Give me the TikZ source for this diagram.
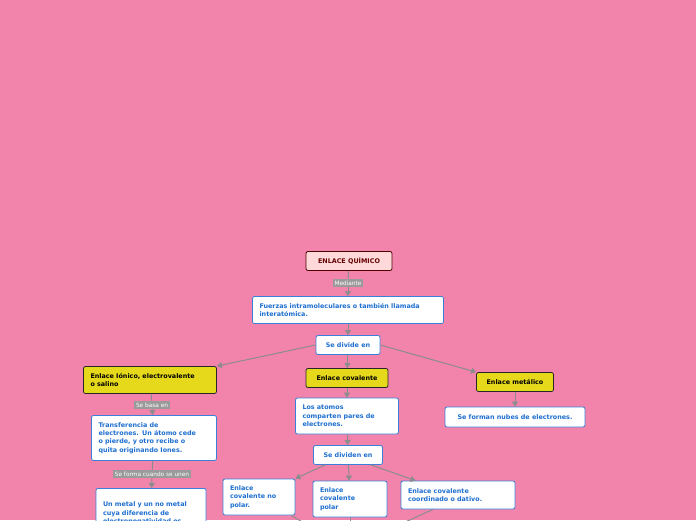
\documentclass[tikz,border=0pt]{standalone}
\usepackage{fontspec}
\setmainfont{DejaVu Sans}
\usetikzlibrary{arrows.meta}
\definecolor{bg}{HTML}{F283AA}
\definecolor{bluet}{HTML}{1E6FD0}
\definecolor{blueb}{HTML}{3A80D8}
\definecolor{yel}{HTML}{E6D81A}
\definecolor{lab}{HTML}{9A9A9A}
\definecolor{conn}{HTML}{8C8C8C}
\tikzset{
 x=1pt,y=-1pt,
 box/.style={draw=blueb,fill=white,rounded corners=2pt,line width=0.8pt,text=bluet,font=\bfseries\fontsize{6.4}{8.3}\selectfont,align=left,inner xsep=7pt,inner ysep=3pt},
 ybox/.style={draw=black!85,fill=yel,rounded corners=2pt,line width=0.8pt,text=black,font=\bfseries\fontsize{6.4}{8.3}\selectfont,align=left,inner xsep=7pt,inner ysep=3pt},
 lbl/.style={fill=lab,text=white,font=\fontsize{5.8}{7}\selectfont,inner sep=2pt},
 conn/.style={draw=conn,line width=1pt,-{Triangle[length=5pt,width=6pt]}},
 plain/.style={draw=conn,line width=1pt}
}
\begin{document}
\begin{tikzpicture}
\fill[bg] (0,0) rectangle (696,520);
\useasboundingbox (0,0) rectangle (696,520);
\begin{scope}
\clip (0,0) rectangle (696,520);
\node[draw=black!70!red,fill=pink!60!white,rounded corners=2pt,line width=0.8pt,text=black!60!red,font=\bfseries\fontsize{6.4}{8}\selectfont,minimum width=86pt,minimum height=19pt] (q) at (349,261) {ENLACE QUÍMICO};
\node[lbl] (med) at (348,283) {Mediante};
\node[box,text width=177pt,minimum height=27pt] (f) at (348,310) {Fuerzas intramoleculares o también llamada\\interatómica.};
\node[box,minimum width=64pt,minimum height=19pt,align=center] (d) at (348,345) {Se divide en};
\node[ybox,text width=119pt,minimum height=27pt] (io) at (150,380) {Enlace Iónico, electrovalente\\o salino};
\node[ybox,minimum width=82pt,minimum height=19pt] (co) at (347,378) {Enlace covalente};
\node[ybox,minimum width=77pt,minimum height=19pt] (me) at (515,382) {Enlace metálico};
\node[box,minimum width=140pt,minimum height=20pt] (nu) at (515,417) {Se forman nubes de electrones.};
\node[lbl] (ba) at (152,405) {Se basa en};
\node[box,text width=111pt,minimum height=45pt] (tr) at (154,438) {Transferencia de\\electrones. Un átomo cede\\o pierde, y otro recibe o\\quita originando Iones.};
\node[lbl] (fo) at (152,474) {Se forma cuando se unen};
\node[box,text width=96pt,minimum height=50pt,anchor=north] (um) at (151,488) {Un metal y un no metal\\cuya diferencia de\\electronegatividad es};
\node[box,text width=89pt,minimum height=36pt] (at) at (347,416) {Los atomos\\comparten pares de\\electrones.};
\node[box,minimum width=69pt,minimum height=19pt] (dv) at (348,455) {Se dividen en};
\node[box,text width=58pt,minimum height=36pt] (np) at (259,497) {Enlace\\covalente no\\polar.};
\node[box,text width=60pt,minimum height=36pt] (po) at (350,499) {Enlace\\covalente\\polar};
\node[box,text width=100pt,minimum height=28pt] (cd) at (458,495) {Enlace covalente\\coordinado o dativo.};
\coordinate (b1) at (312,528);
\coordinate (b2) at (350,528);
\coordinate (b3) at (392,528);
\draw[plain] (q) -- (med); \draw[conn] (med) -- (f);
\draw[conn] (f) -- (d);
\draw[conn] (d.west) -- (io.north east);
\draw[conn] (d) -- (co);
\draw[conn] (d.east) -- (me.north west);
\draw[conn] (me) -- (nu);
\draw[plain] (io) -- (ba); \draw[conn] (ba) -- (tr);
\draw[plain] (tr) -- (fo); \draw[conn] (fo) -- (um);
\draw[conn] (co) -- (at);
\draw[conn] (at) -- (dv);
\draw[conn] ([xshift=12pt]dv.south west) -- (np.north east);
\draw[conn] (dv) -- (po);
\draw[conn] ([xshift=-12pt]dv.south east) -- ([xshift=15pt]cd.north west);
\draw[plain] ([xshift=-4pt]np.south east) -- (b1);
\draw[plain] (po.south) -- (b2);
\draw[plain] ([xshift=-25pt]cd.south) -- (b3);
\end{scope}
\end{tikzpicture}
\end{document}
